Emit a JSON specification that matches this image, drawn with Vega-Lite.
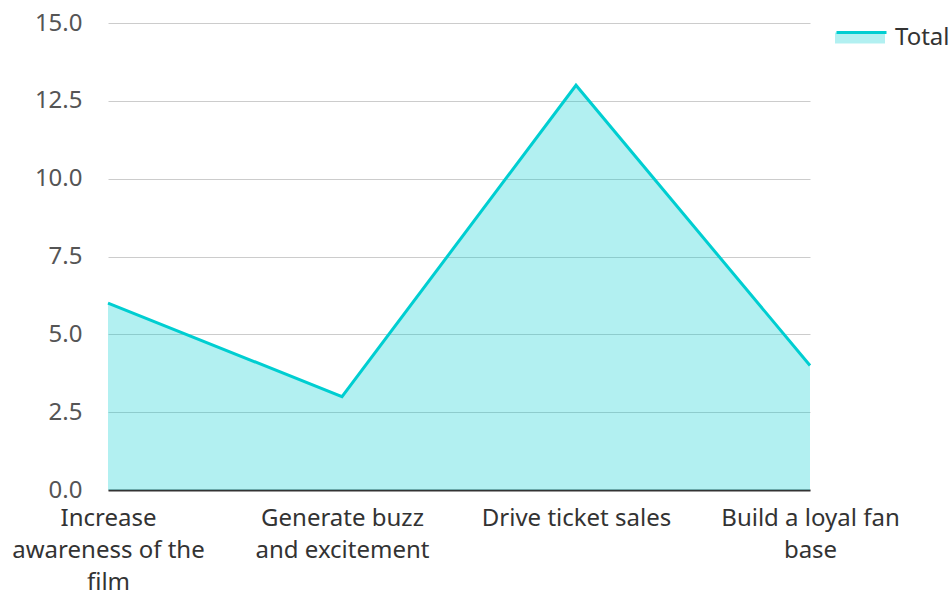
{
  "$schema": "https://vega.github.io/schema/vega-lite/v6.json",
  "width": 702,
  "height": 467,
  "autosize": {"type": "none"},
  "padding": {"left": 108, "top": 23, "right": 142, "bottom": 104},
  "background": "white",
  "config": {
    "font": "Noto Sans",
    "view": {"stroke": null}
  },
  "data": {
    "values": [
      {"goal": "Increase awareness of the film", "value": 6, "series": "Total"},
      {"goal": "Generate buzz and excitement", "value": 3, "series": "Total"},
      {"goal": "Drive ticket sales", "value": 13, "series": "Total"},
      {"goal": "Build a loyal fan base", "value": 4, "series": "Total"}
    ]
  },
  "encoding": {
    "x": {
      "field": "goal",
      "type": "ordinal",
      "sort": null,
      "scale": {"type": "point", "padding": 0},
      "axis": {
        "title": null,
        "labelAngle": 0,
        "labelFontSize": 24,
        "labelColor": "#333333",
        "labelPadding": 16,
        "labelLineHeight": 32,
        "labelLimit": 400,
        "labelBaseline": "top",
        "labelOverlap": false,
        "ticks": false,
        "grid": false,
        "domainColor": "#333333",
        "domainWidth": 2,
        "labelExpr": "datum.value == 'Increase awareness of the film' ? ['Increase', 'awareness of the', 'film'] : datum.value == 'Generate buzz and excitement' ? ['Generate buzz', 'and excitement'] : datum.value == 'Build a loyal fan base' ? ['Build a loyal fan', 'base'] : datum.value"
      }
    },
    "y": {
      "field": "value",
      "type": "quantitative",
      "scale": {"domain": [0, 15]},
      "axis": {
        "title": null,
        "values": [0, 2.5, 5, 7.5, 10, 12.5, 15],
        "format": ".1f",
        "labelFontSize": 24,
        "labelColor": "#555555",
        "labelPadding": 26,
        "ticks": false,
        "domain": false,
        "gridColor": "#cccccc",
        "gridWidth": 1
      }
    }
  },
  "layer": [
    {
      "mark": {"type": "area", "fillOpacity": 0.3},
      "encoding": {
        "fill": {
          "field": "series",
          "type": "nominal",
          "scale": {"range": ["#00CED1"]},
          "legend": {
            "title": null,
            "orient": "none",
            "legendX": 727,
            "legendY": -10,
            "padding": 0,
            "symbolType": "M-1,-0.22L1,-0.22L1,0.22L-1,0.22Z",
            "symbolSize": 2500,
            "symbolOpacity": 0.3,
            "symbolStrokeWidth": 0,
            "labelFontSize": 24,
            "labelColor": "#333333",
            "labelOffset": 10
          }
        }
      }
    },
    {
      "mark": {"type": "line", "strokeWidth": 3},
      "encoding": {
        "stroke": {
          "field": "series",
          "type": "nominal",
          "scale": {"range": ["#00CED1"]},
          "legend": {
            "title": null,
            "orient": "none",
            "legendX": 727,
            "legendY": -17,
            "padding": 0,
            "symbolType": "M-1,0L1,0",
            "symbolSize": 2500,
            "symbolStrokeWidth": 3,
            "labelFontSize": 24,
            "labelOpacity": 0,
            "labelOffset": 10
          }
        }
      }
    }
  ]
}
